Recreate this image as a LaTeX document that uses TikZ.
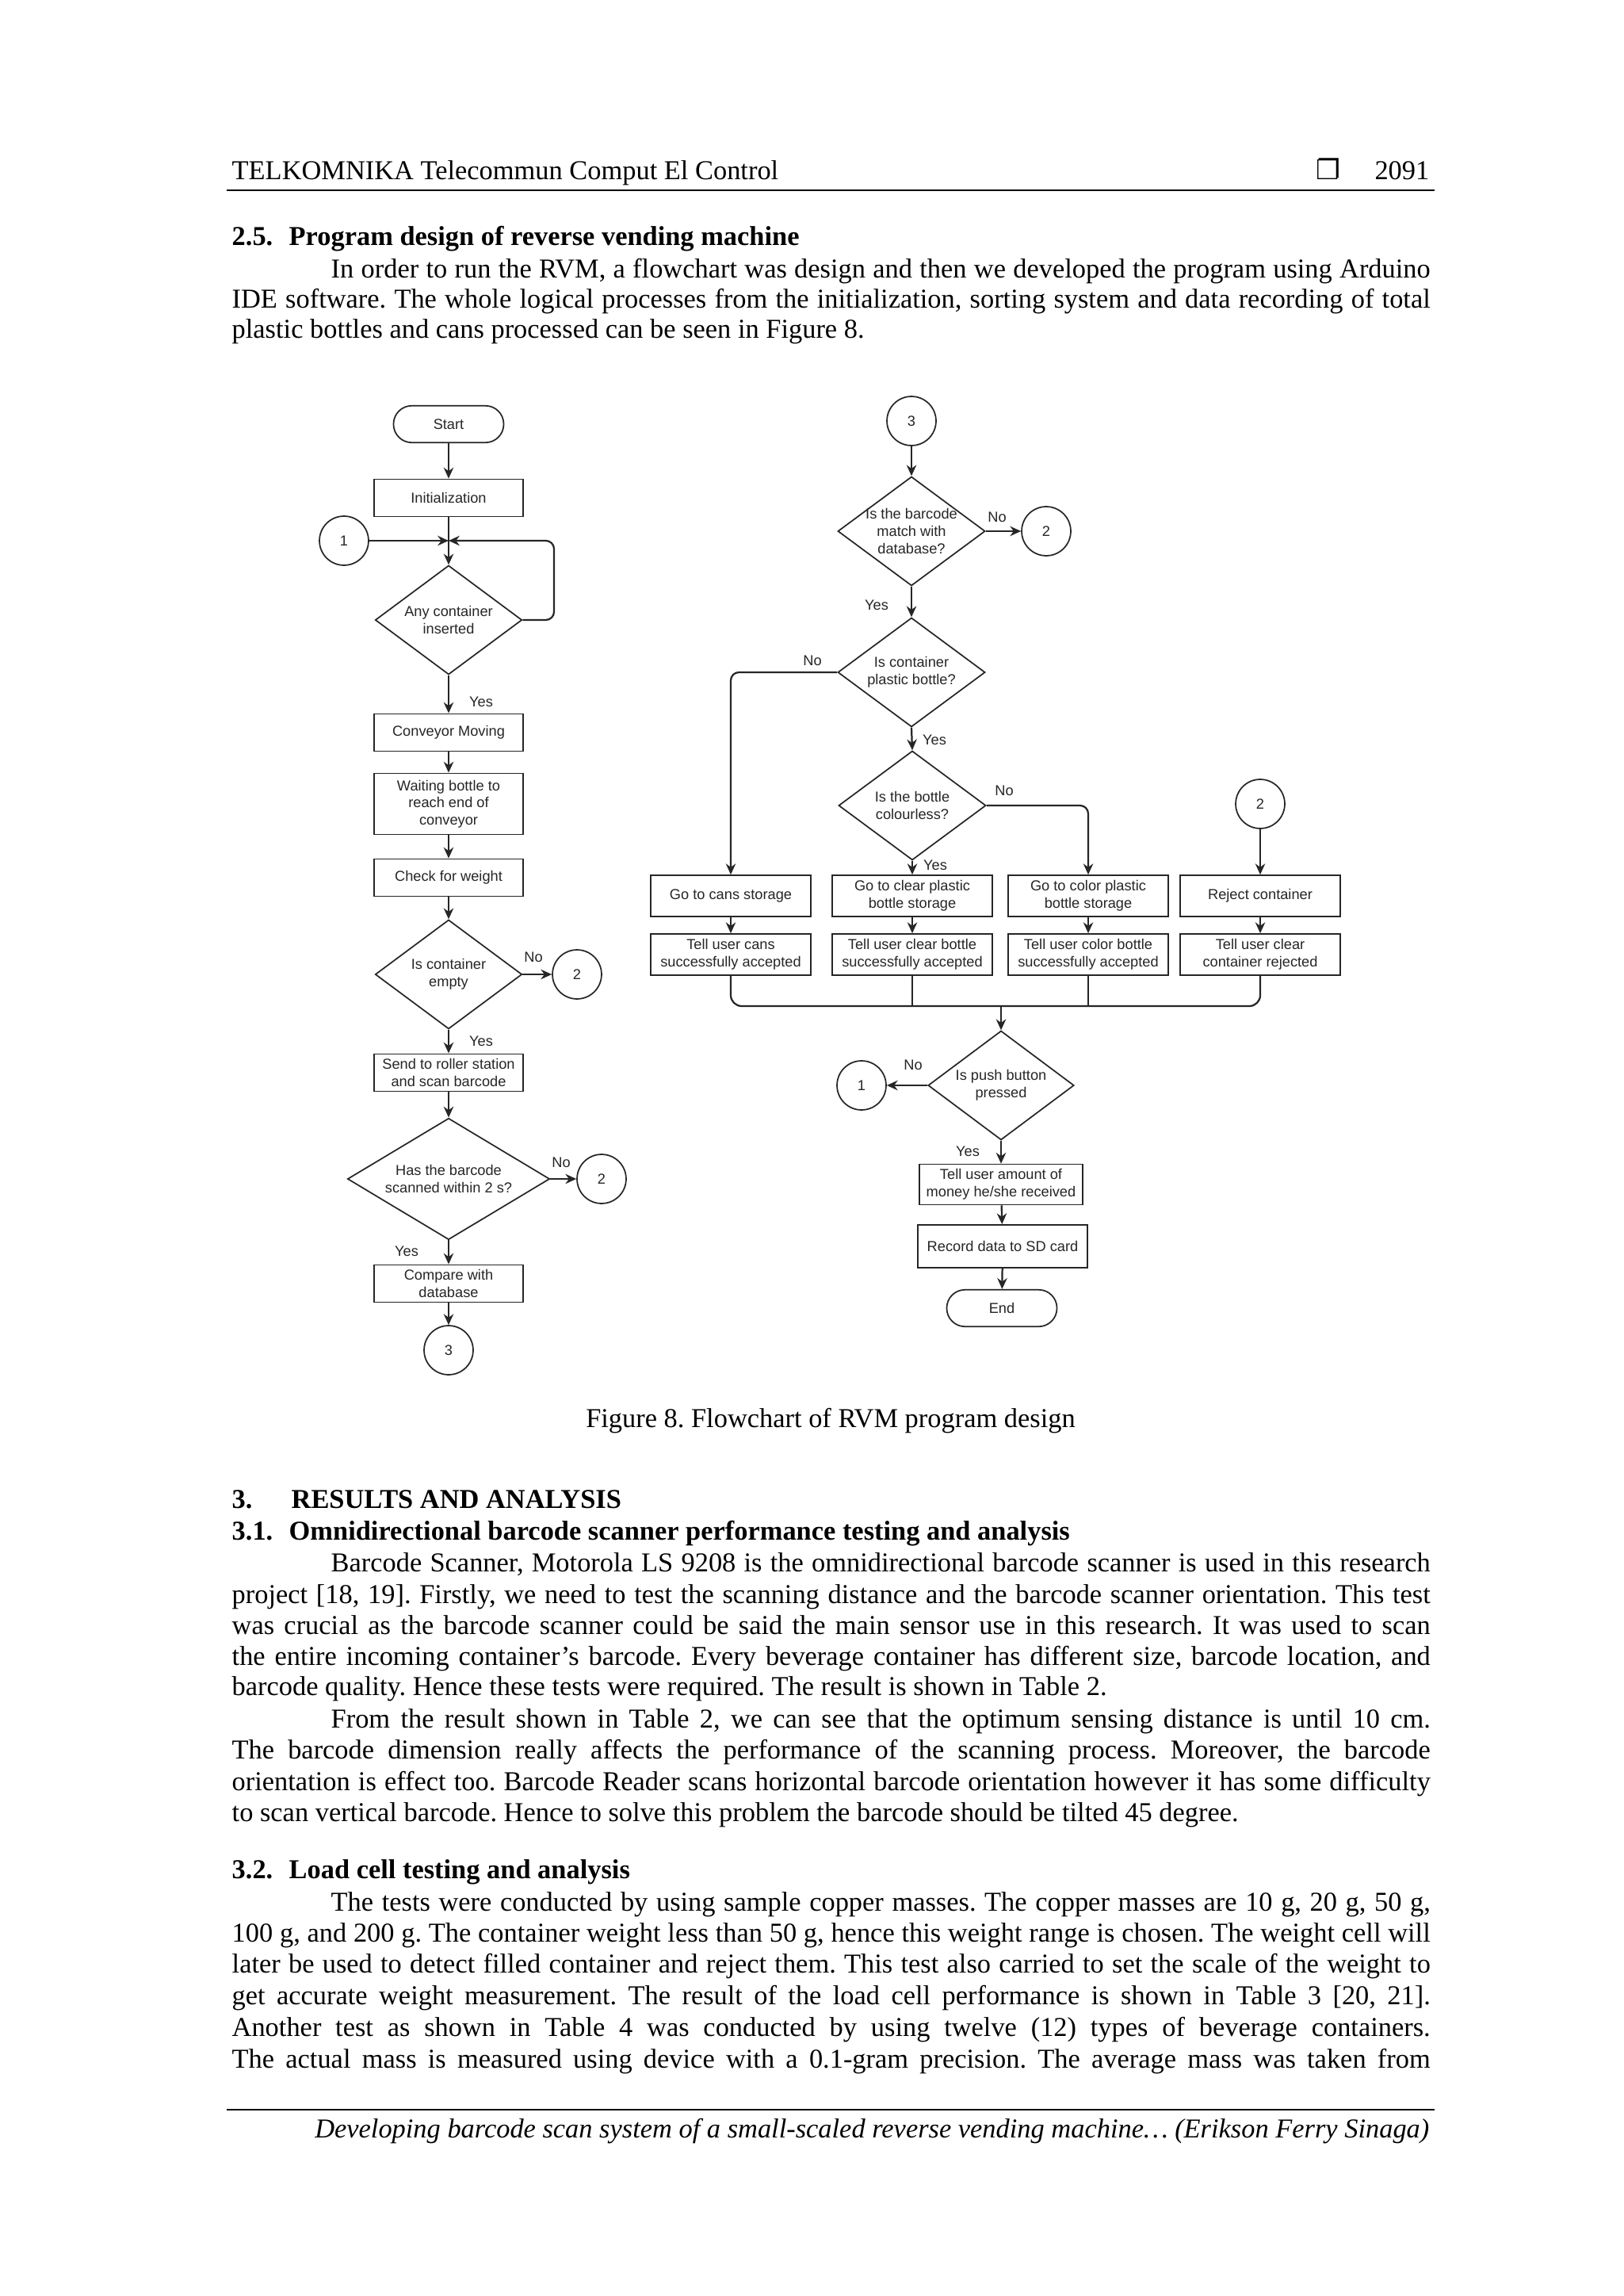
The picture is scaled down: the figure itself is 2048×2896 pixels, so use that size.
\documentclass[tikz,border=0pt]{standalone}
\usepackage{fontspec}
\setmainfont{Liberation Serif}
\newfontfamily\fcfont{Liberation Sans}
\newfontfamily\symfont{DejaVu Sans}
\usetikzlibrary{shapes.geometric,arrows.meta}
\frenchspacing

\newcommand\fullL[3]{\node[body] (#1) at (292,#2) {\makebox[439.4pt][s]{#3}};}
\newcommand\indL[3]{\node[body] (#1) at (417,#2) {\makebox[403.1pt][s]{#3}};}
\newcommand\lastL[3]{\node[body] (#1) at (292,#2) {#3};}
\newcommand\dnode[6][dec]{\node[#1,minimum width=#4,minimum height=#5] (#2) at #3 {};\node[fc] (#2-t) at (#2.center) {#6};}

\begin{document}
\begin{tikzpicture}[x=0.2906pt,y=-0.2906pt,
  body/.style={font=\fontsize{10}{11.4}\selectfont, inner sep=0pt, anchor=base west},
  fc/.style={font=\fcfont\fontsize{5.3}{6.3}\selectfont, text=black!85, align=center, inner sep=0pt},
  pbox/.style={fc, draw=black!85, line width=0.5pt, rectangle, minimum width=54.6pt, minimum height=13.7pt},
  gbox/.style={fc, draw=black!85, line width=0.5pt, rectangle, minimum width=58.7pt, minimum height=15.1pt},
  term/.style={fc, draw=black!85, line width=0.5pt, rectangle, rounded corners=6.7pt, minimum width=40.4pt, minimum height=13.5pt},
  conn/.style={fc, draw=black!85, line width=0.5pt, circle, minimum size=18pt},
  dec/.style={draw=black!85, line width=0.5pt, diamond, inner sep=0pt, minimum width=53.8pt, minimum height=40pt},
  lab/.style={fc},
  lin/.style={line width=0.65pt, draw=black!85},
  arr/.style={lin, -{Stealth[length=4pt,width=3.6pt]}},
]
\fill[white] (0,0) rectangle (2048,2896);
\useasboundingbox (0,0) rectangle (2048,2896);

% ---------- header ----------
\node[body] (hdr) at (292,227) {TELKOMNIKA Telecommun Comput El Control};
\node[body] (hsym) at (1660,227) {\symfont ❐};
\node[body, anchor=base east] (hpage) at (1804,227) {2091};
\draw[line width=0.8pt] (286,240) -- (1810,240);

% ---------- section 2.5 ----------
\node[body] (s25n) at (292,310) {\bfseries 2.5.};
\node[body] (s25) at (364,310) {\bfseries Program design of reverse vending machine};
\indL{p1a}{351}{In order to run the RVM, a flowchart was design and then we developed the program using Arduino}
\fullL{p1b}{389}{IDE software. The whole logical processes from the initialization, sorting system and data recording of total}
\lastL{p1c}{427}{plastic bottles and cans processed can be seen in Figure 8.}

% ---------- flowchart: left column ----------
\node[term] (start) at (566,535) {Start};
\node[pbox] (init) at (566,628) {Initialization};
\coordinate (jn) at (566,682);
\node[conn] (c1L) at (434,682) {1};
\dnode{d1}{(566,782)}{53.8pt}{40pt}{Any container\\inserted}
\coordinate (loopR) at (699,682);
\node[pbox] (conv) at (566,924) {Conveyor Moving};
\node[pbox, minimum height=22.4pt] (wait) at (566,1014) {Waiting bottle to\\reach end of\\conveyor};
\node[pbox] (check) at (566,1107) {Check for weight};
\dnode{d2}{(566,1229)}{53.8pt}{40pt}{Is container\\empty}
\node[conn] (c2a) at (728,1229) {2};
\node[pbox] (send) at (566,1353) {Send to roller station\\and scan barcode};
\dnode{d3}{(566,1487)}{74.1pt}{44.5pt}{Has the barcode\\scanned within 2 s?}
\node[conn] (c2b) at (759,1487) {2};
\node[pbox] (comp) at (566,1619) {Compare with\\database};
\node[conn] (c3L) at (566,1703) {3};

\draw[arr] (start) -- (init);
\draw[arr] (init.south) -- (d1.north);
\draw[arr] (c1L) -- (jn);
\draw[arr, rounded corners=3pt] (d1.east) -| (loopR) -- (jn);
\draw[arr] (d1.south) -- (conv.north);
\node[lab] (y1) at (607,885) {Yes};
\draw[arr] (conv) -- (wait);
\draw[arr] (wait) -- (check);
\draw[arr] (check.south) -- (d2.north);
\draw[arr] (d2.east) -- (c2a);
\node[lab] (n2) at (673,1207) {No};
\draw[arr] (d2.south) -- (send.north);
\node[lab] (y2) at (607,1313) {Yes};
\draw[arr] (send.south) -- (d3.north);
\draw[arr] (d3.east) -- (c2b);
\node[lab] (n3) at (708,1466) {No};
\draw[arr] (d3.south) -- (comp.north);
\node[lab] (y3) at (513,1578) {Yes};
\draw[arr] (comp) -- (c3L);

% ---------- flowchart: right column ----------
\node[conn] (c3R) at (1150,531) {3};
\dnode{dA}{(1150,670)}{54pt}{40pt}{Is the barcode\\match with\\database?}
\node[conn] (c2c) at (1320,670) {2};
\dnode{dB}{(1150,848)}{54pt}{40pt}{Is container\\plastic bottle?}
\dnode{dC}{(1151,1016)}{54pt}{40pt}{Is the bottle\\colourless?}
\node[conn] (c2d) at (1590,1014) {2};
\node[gbox] (gcans) at (922,1130) {Go to cans storage};
\node[gbox] (gclear) at (1151,1130) {Go to clear plastic\\bottle storage};
\node[gbox] (gcolor) at (1373,1130) {Go to color plastic\\bottle storage};
\node[gbox] (grej) at (1590,1130) {Reject container};
\node[gbox] (tcans) at (922,1204) {Tell user cans\\successfully accepted};
\node[gbox] (tclear) at (1151,1204) {Tell user clear bottle\\successfully accepted};
\node[gbox] (tcolor) at (1373,1204) {Tell user color bottle\\successfully accepted};
\node[gbox] (trej) at (1590,1204) {Tell user clear\\container rejected};
\coordinate (mL) at (922,1269);
\coordinate (mR) at (1590,1269);
\coordinate (mP) at (1263,1269);
\dnode{dP}{(1263,1369)}{53.5pt}{40pt}{Is push button\\pressed}
\node[conn] (c1R) at (1087,1369) {1};
\node[pbox, minimum width=59.9pt, minimum height=14.8pt] (amt) at (1263,1494) {Tell user amount of\\money he/she received};
\node[pbox, minimum width=62.2pt, minimum height=15.7pt] (rec) at (1265,1572) {Record data to SD card};
\node[term] (endn) at (1264,1650) {End};

\draw[arr] (c3R) -- (dA.north);
\draw[arr] (dA.east) -- (c2c);
\node[lab] (nA) at (1258,652) {No};
\draw[arr] (dA.south) -- (dB.north);
\node[lab] (yA) at (1106,763) {Yes};
\draw[arr, rounded corners=3pt] (dB.west) -| (gcans.north);
\node[lab] (nB) at (1025,833) {No};
\draw[arr] (dB.south) -- (dC.north);
\node[lab] (yB) at (1179,933) {Yes};
\draw[arr] (dC.south) -- (gclear.north);
\node[lab] (yC) at (1180,1091) {Yes};
\draw[arr, rounded corners=3pt] (dC.east) -| (gcolor.north);
\node[lab] (nC) at (1267,997) {No};
\draw[arr] (c2d) -- (grej.north);
\draw[arr] (gcans) -- (tcans);
\draw[arr] (gclear) -- (tclear);
\draw[arr] (gcolor) -- (tcolor);
\draw[arr] (grej) -- (trej);
\draw[lin, rounded corners=4pt] (tcans.south) -- (mL) -- (mR) -- (trej.south);
\draw[lin] (tclear.south) -- (tclear.south |- mL);
\draw[lin] (tcolor.south) -- (tcolor.south |- mL);
\draw[arr] (mP) -- (dP.north);
\draw[arr] (dP.west) -- (c1R);
\node[lab] (nP) at (1152,1343) {No};
\draw[arr] (dP.south) -- (amt.north);
\node[lab] (yP) at (1221,1452) {Yes};
\draw[arr] (amt) -- (rec);
\draw[arr] (rec) -- (endn);

% ---------- caption ----------
\node[body, anchor=base] (cap) at (1048,1800) {Figure 8. Flowchart of RVM program design};

% ---------- section 3 ----------
\node[body] (s3n) at (292,1902) {\bfseries 3.};
\node[body] (s3) at (367,1902) {\bfseries RESULTS AND ANALYSIS};
\node[body] (s31n) at (292,1942) {\bfseries 3.1.};
\node[body] (s31) at (364,1942) {\bfseries Omnidirectional barcode scanner performance testing and analysis};
\indL{p2a}{1982}{Barcode Scanner, Motorola LS 9208 is the omnidirectional barcode scanner is used in this research}
\fullL{p2b}{2022}{project [18, 19]. Firstly, we need to test the scanning distance and the barcode scanner orientation. This test}
\fullL{p2c}{2061}{was crucial as the barcode scanner could be said the main sensor use in this research. It was used to scan}
\fullL{p2d}{2100}{the entire incoming container’s barcode. Every beverage container has different size, barcode location, and}
\lastL{p2e}{2138}{barcode quality. Hence these tests were required. The result is shown in Table 2.}
\indL{p3a}{2179}{From the result shown in Table 2, we can see that the optimum sensing distance is until 10 cm.}
\fullL{p3b}{2218}{The barcode dimension really affects the performance of the scanning process. Moreover, the barcode}
\fullL{p3c}{2258}{orientation is effect too. Barcode Reader scans horizontal barcode orientation however it has some difficulty}
\lastL{p3d}{2297}{to scan vertical barcode. Hence to solve this problem the barcode should be tilted 45 degree.}

\node[body] (s32n) at (292,2369) {\bfseries 3.2.};
\node[body] (s32) at (364,2369) {\bfseries Load cell testing and analysis};
\indL{p4a}{2410}{The tests were conducted by using sample copper masses. The copper masses are 10 g, 20 g, 50 g,}
\fullL{p4b}{2449}{100 g, and 200 g. The container weight less than 50 g, hence this weight range is chosen. The weight cell will}
\fullL{p4c}{2488}{later be used to detect filled container and reject them. This test also carried to set the scale of the weight to}
\fullL{p4d}{2528}{get accurate weight measurement. The result of the load cell performance is shown in Table 3 [20, 21].}
\fullL{p4e}{2568}{Another test as shown in Table 4 was conducted by using twelve (12) types of beverage containers.}
\fullL{p4f}{2608}{The actual mass is measured using device with a 0.1-gram precision. The average mass was taken from}

% ---------- footer ----------
\draw[line width=0.8pt] (286,2661) -- (1810,2661);
\node[body, anchor=base east] (ftr) at (1804,2696) {\itshape Developing barcode scan system of a small-scaled reverse vending machine… (Erikson Ferry Sinaga)};
\end{tikzpicture}
\end{document}
